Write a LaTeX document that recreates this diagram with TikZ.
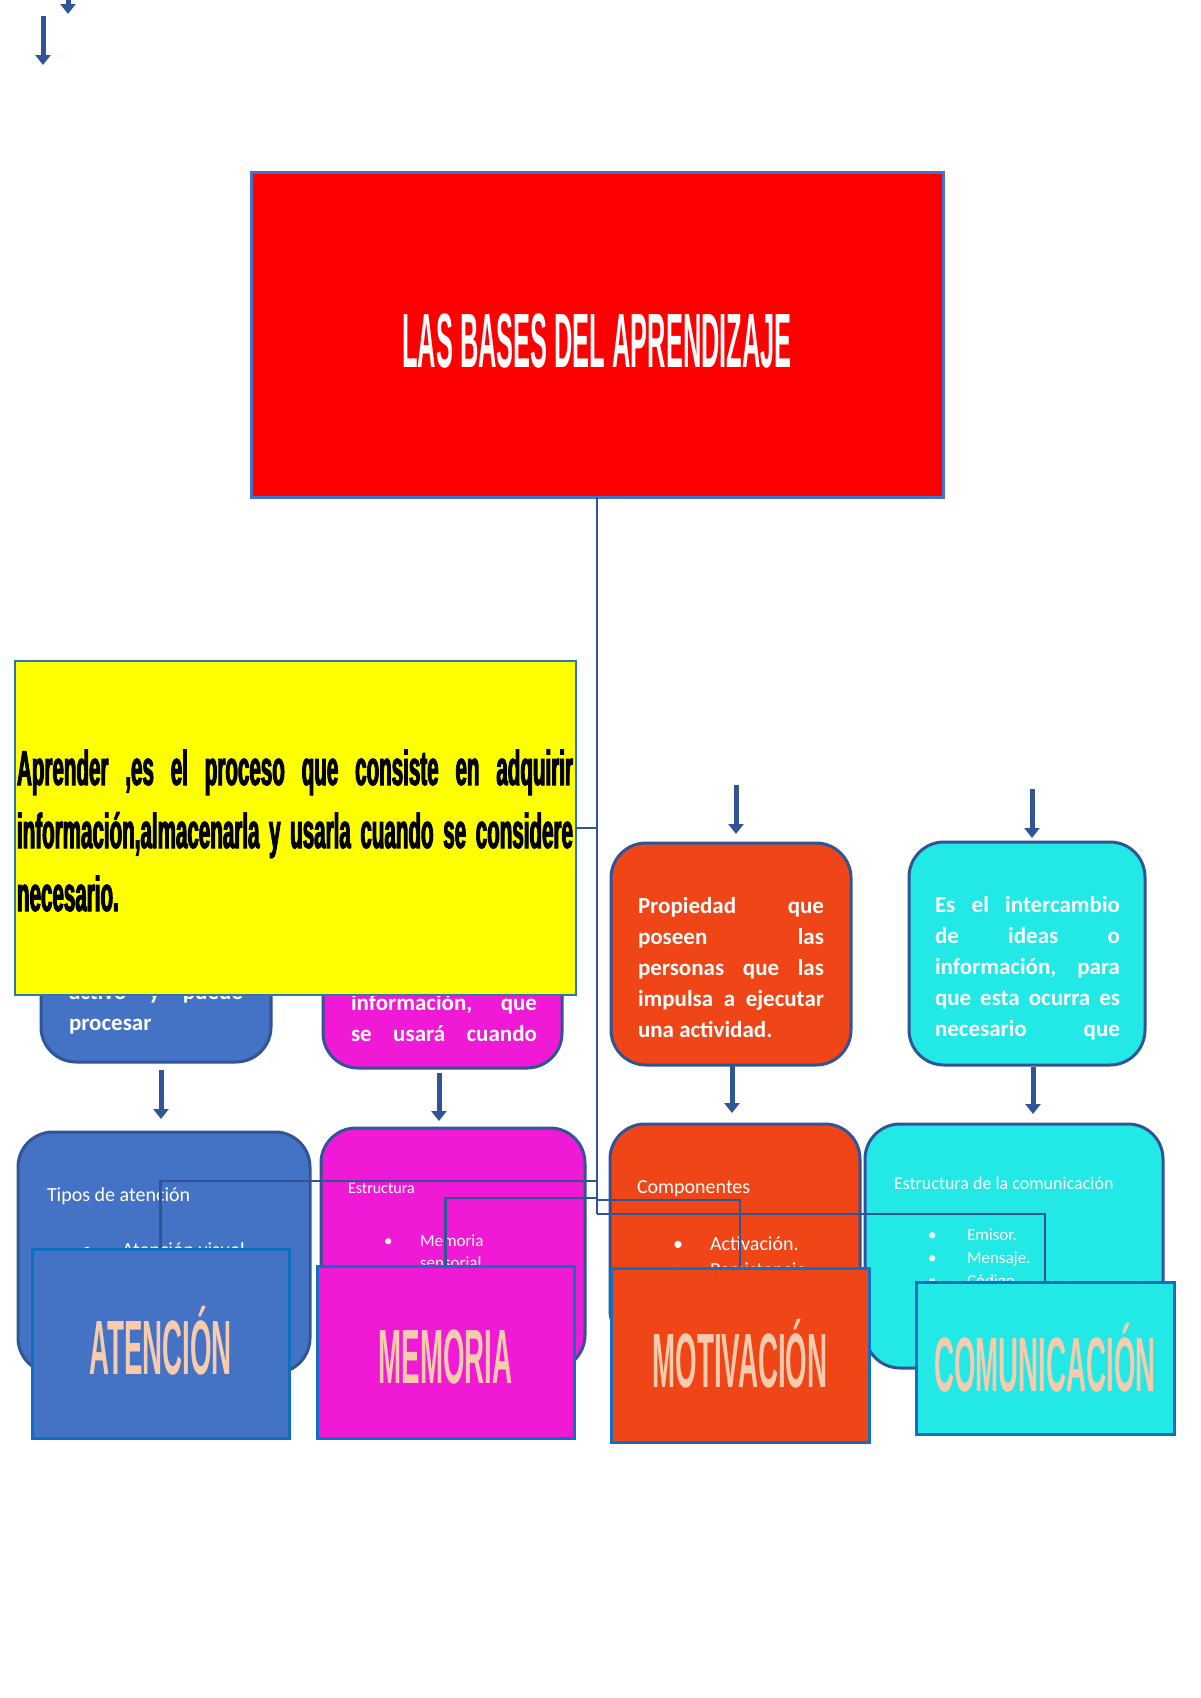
\documentclass[tikz,border=0pt]{standalone}
\usepackage{fontspec}
\setmainfont{Carlito}
\newfontfamily\agency[FakeStretch=0.36]{Liberation Sans}
\newfontfamily\agencyT[FakeStretch=0.33]{Liberation Sans}
\newfontfamily\agencyY[FakeStretch=0.42,FakeBold=2]{Liberation Sans Bold}
\usetikzlibrary{arrows.meta}
\definecolor{redfill}{HTML}{FF0000}
\definecolor{redborder}{HTML}{4472C4}
\definecolor{yelfill}{HTML}{FFFF00}
\definecolor{yelborder}{HTML}{2E75B6}
\definecolor{bluefill}{HTML}{4472C4}
\definecolor{magfill}{HTML}{F019D6}
\definecolor{orafill}{HTML}{F04517}
\definecolor{cyafill}{HTML}{22E8E6}
\definecolor{lineblue}{HTML}{2F5597}
\definecolor{labelblue}{HTML}{0F6FC0}
\definecolor{peach}{HTML}{F8CBAD}
\newcommand{\jl}[2]{\makebox[#1][s]{#2}}
\tikzset{
  every node/.style={inner sep=0pt, outer sep=0pt},
  rbox/.style={draw=lineblue, line width=3pt, rounded corners=35pt, anchor=north west},
  lbox/.style={draw=labelblue, line width=3pt, anchor=north west},
  conn/.style={draw=lineblue, line width=2.4pt},
  blockarrow/.style={draw=lineblue, line width=5pt, -{Triangle[width=15pt,length=10pt]}},
  wtext/.style={text=white, anchor=base west},
  lbltext/.style={font=\agency\bfseries\fontsize{77}{80}\selectfont, text=peach, anchor=base},
  toptext/.style={text=white, anchor=base west, font=\bfseries\fontsize{23}{31}\selectfont},
}
\begin{document}
\begin{tikzpicture}[x=1pt,y=-1pt]
\useasboundingbox (0,0) rectangle (1200,1698);
\fill[white] (0,0) rectangle (1200,1698);
\clip (0,0) rectangle (1200,1698);

% stray arrows at top left
\coordinate (a1s) at (43,16); \coordinate (a1e) at (43,65);
\coordinate (a2s) at (68,-30); \coordinate (a2e) at (68,14);
\draw[blockarrow] (a1s) -- (a1e);
\draw[blockarrow] (a2s) -- (a2e);

% title
\node[draw=redborder, line width=3pt, fill=redfill, anchor=north west,
      minimum width=692pt, minimum height=325pt] (title) at (251,172) {};
\node[text=white, anchor=base, font=\agencyT\bfseries\fontsize{77}{80}\selectfont]
      (titletxt) at (597,367) {LAS BASES DEL APRENDIZAJE};

% top rounded boxes
\node[rbox, fill=bluefill, minimum width=230pt, minimum height=217pt] (btop) at (41,845) {};
\node[toptext] (btoptxt) at (69,999) {\parbox[t]{174pt}{\jl{174pt}{activo y puede}\\procesar}};

\node[rbox, fill=magfill, minimum width=239pt, minimum height=223pt] (mtop) at (323,845) {};
\node[toptext] (mtoptxt) at (351,1010) {\parbox[t]{186pt}{\jl{186pt}{información, que}\\\jl{186pt}{se usará cuando}}};

\node[rbox, fill=orafill, minimum width=240pt, minimum height=222pt] (otop) at (611,843) {};
\node[toptext] (otoptxt) at (638,913) {\parbox[t]{186pt}{\jl{186pt}{Propiedad que}\\\jl{186pt}{poseen las}\\\jl{186pt}{personas que las}\\\jl{186pt}{impulsa a ejecutar}\\una actividad.}};

\node[rbox, fill=cyafill, minimum width=236pt, minimum height=223pt] (ctop) at (909,842) {};
\node[toptext] (ctoptxt) at (935,912) {\parbox[t]{185pt}{\jl{185pt}{Es el intercambio}\\\jl{185pt}{de ideas o}\\\jl{185pt}{información, para}\\\jl{185pt}{que esta ocurra es}\\\jl{185pt}{necesario que}}};

% yellow definition box
\node[draw=yelborder, line width=2.5pt, fill=yelfill, anchor=north west,
      minimum width=561pt, minimum height=334pt] (yel) at (15,661) {};
\node[anchor=base west, text=black, font=\agencyY\fontsize{49}{63}\selectfont] (yeltxt) at (17,785)
  {\parbox[t]{556pt}{\jl{556pt}{Aprender ,es el proceso que consiste en adquirir}\\\jl{556pt}{información,almacenarla y usarla cuando se considere}\\necesario.}};

% arrows
\coordinate (ao1) at (736,785); \coordinate (ao2) at (736,834);
\coordinate (ac1) at (1032,789); \coordinate (ac2) at (1032,838);
\draw[blockarrow] (ao1) -- (ao2);
\draw[blockarrow] (ac1) -- (ac2);
\coordinate (ab1) at (161,1070); \coordinate (ab2) at (161,1119);
\coordinate (am1) at (439,1073); \coordinate (am2) at (439,1121);
\coordinate (aor1) at (732,1066); \coordinate (aor2) at (732,1113);
\coordinate (acy1) at (1033,1067); \coordinate (acy2) at (1033,1114);
\draw[blockarrow] (ab1) -- (ab2);
\draw[blockarrow] (am1) -- (am2);
\draw[blockarrow] (aor1) -- (aor2);
\draw[blockarrow] (acy1) -- (acy2);

% lower rounded boxes
\node[rbox, fill=bluefill, minimum width=292pt, minimum height=241pt] (blow) at (18,1132) {};
\node[wtext, font=\fontsize{20}{24}\selectfont] (blowt) at (47,1201) {Tipos de atención};
\node[wtext, font=\fontsize{20}{24}\selectfont] (blowb) at (82,1256) {•};
\node[wtext, font=\fontsize{20}{24}\selectfont] (blowi) at (122,1256) {Atención visual};

\node[rbox, fill=magfill, minimum width=264pt, minimum height=242pt] (mlow) at (321,1128) {};
\node[wtext, font=\fontsize{16}{20}\selectfont] (mlowt) at (348,1193) {Estructura};
\node[wtext, font=\fontsize{17}{22}\selectfont] (mlowb) at (384,1246) {•};
\node[wtext, font=\fontsize{17}{22}\selectfont] (mlowi) at (420,1246) {\parbox[t]{100pt}{Memoria\\sensorial}};

\node[rbox, fill=orafill, minimum width=250pt, minimum height=221pt] (olow) at (610,1124) {};
\node[wtext, font=\fontsize{20}{24}\selectfont] (olowt) at (637,1193) {Componentes};
\node[wtext, font=\fontsize{20}{26}\selectfont] (olowb) at (673,1250) {\parbox[t]{20pt}{•\\•}};
\node[wtext, font=\fontsize{20}{26}\selectfont] (olowi) at (710,1250) {\parbox[t]{150pt}{Activación.\\Persistencia.}};

\node[rbox, fill=cyafill, minimum width=298pt, minimum height=244pt] (clow) at (865,1124) {};
\node[wtext, font=\fontsize{18}{22}\selectfont] (clowt) at (894,1189) {Estructura de la comunicación};
\node[wtext, font=\fontsize{17}{23}\selectfont] (clowb) at (928,1240) {\parbox[t]{20pt}{•\\•\\•}};
\node[wtext, font=\fontsize{17}{23}\selectfont] (clowi) at (967,1240) {\parbox[t]{150pt}{Emisor.\\Mensaje.\\Código.}};

% trunk points
\coordinate (trunk1) at (597,1181);
\coordinate (trunk2) at (597,1198);
\coordinate (trunk3) at (597,1200);
\coordinate (trunk4) at (597,1214);
\coordinate (yjoin) at (597,828);

% label boxes (geometry first, so connectors can reach them)
\path node[lbox, minimum width=257pt, minimum height=189pt] (atenB) at (32,1249) {};
\path node[lbox, minimum width=257pt, minimum height=172pt] (memB) at (317,1266) {};
\path node[lbox, minimum width=258pt, minimum height=174pt] (motB) at (611,1268) {};
\path node[lbox, minimum width=258pt, minimum height=152pt] (comB) at (916,1282) {};

% connectors
\draw[conn] (title.south) -- (trunk4);
\draw[conn] (yel.east) -- (yjoin);
\draw[conn] (trunk1) -| (atenB.north);
\draw[conn] (trunk2) -| (memB.north);
\draw[conn] (trunk3) -| (motB.north);
\draw[conn] (trunk4) -| (comB.north);

% label boxes on top
\node[lbox, fill=bluefill, minimum width=257pt, minimum height=189pt] (aten) at (32,1249) {};
\node[lbltext] (atent) at (aten.north |- 0,1374) {ATENCIÓN};
\node[lbox, fill=magfill, minimum width=257pt, minimum height=172pt] (mem) at (317,1266) {};
\node[lbltext] (memt) at (mem.north |- 0,1383) {MEMORIA};
\node[lbox, fill=orafill, minimum width=258pt, minimum height=174pt] (mot) at (611,1268) {};
\node[lbltext] (mott) at (mot.north |- 0,1387) {MOTIVACIÓN};
\node[lbox, fill=cyafill, minimum width=258pt, minimum height=152pt] (com) at (916,1282) {};
\node[lbltext] (comt) at (com.north |- 0,1391) {COMUNICACIÓN};
\end{tikzpicture}
\end{document}
